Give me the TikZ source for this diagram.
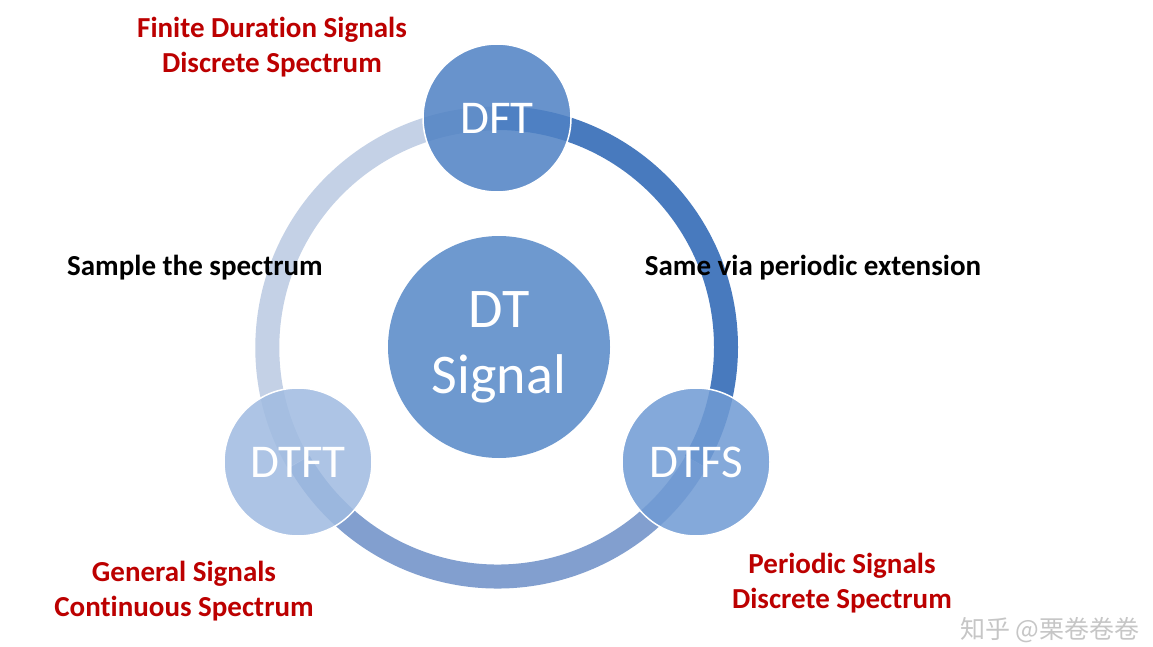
\documentclass[tikz,border=0pt]{standalone}
\usepackage{fontspec}
\setmainfont{Carlito}[Ligatures=NoCommon]
\newfontfamily\cjkfont{Noto Sans CJK SC}
\usetikzlibrary{backgrounds}

\definecolor{ringdark}{RGB}{72,122,190}
\definecolor{ringmid}{RGB}{130,159,207}
\definecolor{ringlight}{RGB}{196,209,230}
\definecolor{dftblue}{RGB}{80,130,196}
\definecolor{dtfsblue}{RGB}{112,155,212}
\definecolor{dtftblue}{RGB}{160,187,225}
\definecolor{hubblue}{RGB}{110,153,207}
\definecolor{notered}{RGB}{188,0,0}

\begin{document}
\begin{tikzpicture}[x=1pt, y=-1pt,
  sat/.style={circle, draw=white, line width=1.5pt, fill=#1, fill opacity=0.86, text opacity=1, text=white, minimum size=148pt, inner sep=0pt, font=\fontsize{47}{50}\selectfont},
  note/.style={text=#1, align=center, inner sep=0pt, font=\fontsize{29}{35}\selectfont\bfseries},
  ring/.style={line width=24pt, draw=#1}
]
\useasboundingbox (0,0) rectangle (1153,647);

% Centre
\node[circle, fill=hubblue, minimum size=222pt, inner sep=0pt, text=white, align=center, font=\fontsize{56}{66}\selectfont] (hub) at (499,347) {DT\\Signal};

% Transforms on the ring
\node[sat=dftblue] (dft) at (497,118) {DFT};
\node[sat=dtfsblue] (dtfs) at (696,462) {DTFS};
\node[sat=dtftblue] (dtft) at (298,462) {DTFT};

% Ring segments
\begin{scope}[on background layer]
\fill[white] (0,0) rectangle (1153,647);
\draw[ring=ringdark] (dft.center) arc[start angle=90, end angle=-30, radius=229pt];
\draw[ring=ringmid] (dtfs.center) arc[start angle=-30, end angle=-150, radius=229pt];
\draw[ring=ringlight] (dtft.center) arc[start angle=210, end angle=90, radius=229pt];
\end{scope}

% Labels
\node[note=notered] (dftnote) at (272,47) {Finite Duration Signals\\Discrete Spectrum};
\node[note=notered] (dtftnote) at (184,591) {General Signals\\Continuous Spectrum};
\node[note=notered] (dtfsnote) at (842,583) {Periodic Signals\\Discrete Spectrum};
\node[note=black] (leftnote) at (195,268) {Sample the spectrum};
\node[note=black] (rightnote) at (813,268) {Same via periodic extension};

% Watermark
\node[text=gray!45, inner sep=0pt, font=\cjkfont\fontsize{25}{25}\selectfont] (mark) at (1050,630) {知乎 @栗卷卷卷};
\end{tikzpicture}
\end{document}
